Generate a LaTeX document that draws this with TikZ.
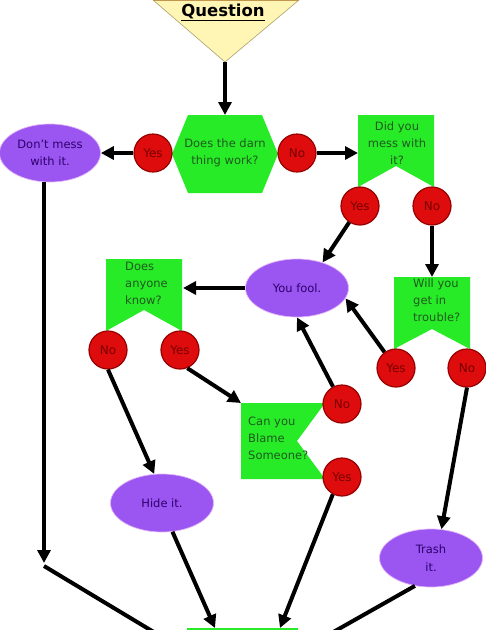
\documentclass[tikz,border=0pt]{standalone}
\usepackage{fontspec}
\setmainfont{DejaVu Sans}
\usetikzlibrary{arrows.meta,shapes.geometric,calc}
\definecolor{gfill}{RGB}{40,235,40}
\definecolor{gtext}{RGB}{30,90,30}
\definecolor{pfill}{RGB}{155,85,240}
\definecolor{pdraw}{RGB}{225,180,248}
\definecolor{ptext}{RGB}{45,0,110}
\definecolor{rfill}{RGB}{222,12,12}
\definecolor{rdraw}{RGB}{150,0,0}
\definecolor{rtext}{RGB}{120,0,0}
\definecolor{yfill}{RGB}{255,245,180}
\definecolor{ydraw}{RGB}{170,160,110}
\tikzset{
  arr/.style={line width=4pt,-{Triangle[length=13pt,width=13pt]}},
  plainline/.style={line width=4pt},
  bub/.style={circle,fill=rfill,draw=rdraw,line width=1.2pt,minimum size=38pt,inner sep=0pt,text=rtext,font=\fontsize{12}{14}\selectfont},
  oval/.style={ellipse,fill=pfill,draw=pdraw,line width=0.7pt,minimum width=103pt,minimum height=58pt,inner sep=0pt,text=ptext,align=center,font=\fontsize{11.5}{17.5}\selectfont},
  gshape/.style={fill=gfill},
  gtxt/.style={text=gtext,inner sep=0pt,font=\fontsize{11.5}{17}\selectfont},
}
\begin{document}
\begin{tikzpicture}[x=1pt,y=-1pt]
\useasboundingbox (0,0) rectangle (486,630);
\clip (0,0) rectangle (486,630);
\fill[white] (0,0) rectangle (486,630);
% Question
\filldraw[fill=yfill,draw=ydraw,line width=0.6pt] (153,0) -- (299,0) -- (225,62) -- cycle;
\draw[draw=ydraw!70!orange,line width=1pt] (153,0.3) -- (299,0.3);
\node[font=\bfseries\fontsize{16.5}{18}\selectfont,inner sep=0pt] (q) at (223,12) {\underline{Question}};
\coordinate (qT) at (225,62);
% hexagon
\fill[gshape] (188,115) -- (262,115) -- (278,154) -- (262,193) -- (188,193) -- (172,154) -- cycle;
\node[gtxt,align=center] (hex) at (225,153) {Does the darn\\thing work?};
\coordinate (hexT) at (225,115);
\node[bub] (yes1) at (153,153) {Yes};
\node[bub] (no1) at (297,153) {No};
\node[oval,minimum width=101pt] (dontmess) at (50,153) {Don't mess\\with it.};
% Did you mess
\fill[gshape] (358,115) -- (434,115) -- (434,187) -- (396,166) -- (358,187) -- cycle;
\node[gtxt,align=center] (didyou) at (397,143) {Did you\\mess with\\it?};
\coordinate (dyL) at (358,153);
\node[bub] (yes2) at (360,206) {Yes};
\node[bub] (no2) at (432,206) {No};
% You fool
\node[oval] (youfool) at (297,288) {You fool.};
% Does anyone know
\fill[gshape] (106,259) -- (182,259) -- (182,331) -- (144,310) -- (106,331) -- cycle;
\node[gtxt,align=left,anchor=north west] (anyone) at (125,262) {Does\\anyone\\know?};
\coordinate (anR) at (183,288);
\node[bub] (no4) at (108,350) {No};
\node[bub] (yes4) at (180,350) {Yes};
% Will you get in trouble
\fill[gshape] (394,277) -- (470,277) -- (470,349) -- (432,329) -- (394,349) -- cycle;
\node[gtxt,align=left,anchor=north west] (willyou) at (413,279) {Will you\\get in\\trouble?};
\coordinate (wyT) at (432,277);
\node[bub] (yes3) at (396,368) {Yes};
\node[bub] (no3) at (467,368) {No};
% Can you blame someone
\fill[gshape] (241,403) -- (325,403) -- (297,441) -- (325,479) -- (241,479) -- cycle;
\node[gtxt,align=left,anchor=north west] (canyou) at (248,417) {Can you\\Blame\\Someone?};
\coordinate (canTL) at (241,403);
\node[bub] (no5) at (342,404) {No};
\node[bub] (yes5) at (342,477) {Yes};
% Hide it / Trash it
\node[oval] (hideit) at (162,503) {Hide it.};
\node[oval] (trash) at (431,558) {Trash\\it.};
% bottom box
\fill[gshape] (187,628) rectangle (298,680);
\coordinate (botTL) at (215,628);
\coordinate (botTR) at (280,628);
\coordinate (botL) at (187,652);
\coordinate (botR) at (298,652);
% connectors
\draw[arr] (qT) -- (hexT);
\draw[arr] (yes1) -- (dontmess);
\draw[arr] (no1) -- (dyL);
\draw[arr] (yes2) -- (youfool.45);
\draw[arr] (no2) -- (wyT);
\draw[arr] (youfool) -- (anR);
\draw[arr] (yes3) -- (youfool.-12);
\draw[arr] (no5) -- (youfool.south);
\draw[arr] (yes4.-68) -- (canTL);
\draw[arr] (no4.south) -- (hideit.105);
\draw[arr] (no3.south) -- (trash.70);
\draw[arr] (hideit.-70) -- (botTL);
\draw[arr] (yes5.-118) -- (botTR);
\coordinate (dmA) at (44,563);
\coordinate (dmB) at (44,566);
\draw[arr] (dontmess.south -| dmA) -- (dmA);
\draw[plainline] (dmB) -- (botL);
\draw[plainline] (trash.-120) -- (botR);
\end{tikzpicture}
\end{document}
